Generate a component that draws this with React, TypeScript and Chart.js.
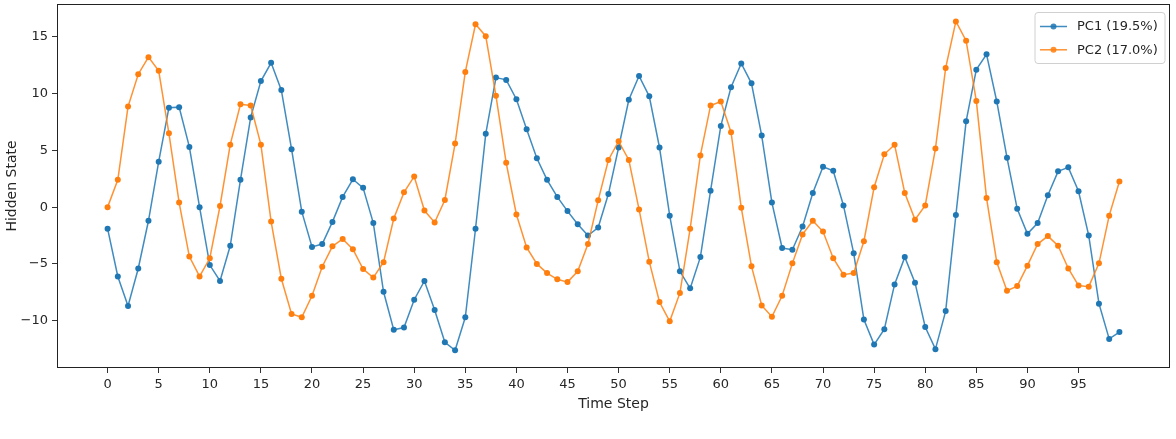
import React, { useEffect, useRef } from "react";
import { Chart, registerables } from "chart.js";

Chart.register(...registerables);

const timeSteps: number[] = Array.from({ length: 100 }, (_, i) => i);

const pc1: number[] = [
  -1.9, -6.1, -8.7, -5.4, -1.2, 4.0, 8.75, 8.8, 5.3, 0.0,
  -5.1, -6.5, -3.4, 2.4, 7.9, 11.1, 12.7, 10.3, 5.1, -0.4,
  -3.5, -3.25, -1.3, 0.9, 2.45, 1.7, -1.4, -7.45, -10.8, -10.6,
  -8.15, -6.5, -9.05, -11.9, -12.6, -9.7, -1.9, 6.45, 11.4, 11.2,
  9.5, 6.85, 4.3, 2.4, 0.9, -0.35, -1.5, -2.5, -1.8, 1.15,
  5.25, 9.45, 11.55, 9.75, 5.25, -0.75, -5.65, -7.15, -4.4, 1.45,
  7.15, 10.55, 12.65, 10.9, 6.3, 0.4, -3.6, -3.75, -1.7, 1.25,
  3.55, 3.2, 0.15, -4.05, -9.9, -12.1, -10.75, -6.8, -4.4, -6.65,
  -10.55, -12.5, -9.15, -0.7, 7.55, 12.1, 13.45, 9.3, 4.35, -0.15,
  -2.35, -1.4, 1.05, 3.15, 3.5, 1.4, -2.5, -8.5, -11.6, -11.0,
];

const pc2: number[] = [
  0.0, 2.4, 8.85, 11.7, 13.2, 12.0, 6.5, 0.4, -4.35, -6.1,
  -4.5, 0.1, 5.5, 9.05, 8.95, 5.5, -1.27, -6.3, -9.4, -9.7,
  -7.8, -5.25, -3.45, -2.8, -3.7, -5.45, -6.2, -4.85, -1.0, 1.3,
  2.7, -0.3, -1.35, 0.63, 5.6, 11.9, 16.1, 15.05, 9.8, 3.9,
  -0.65, -3.55, -5.0, -5.8, -6.35, -6.6, -5.65, -3.25, 0.6, 4.15,
  5.8, 4.15, -0.2, -4.8, -8.35, -10.05, -7.55, -1.9, 4.55, 8.95,
  9.3, 6.6, -0.05, -5.2, -8.65, -9.65, -7.8, -4.95, -2.4, -1.2,
  -2.15, -4.5, -5.95, -5.8, -3.0, 1.75, 4.65, 5.5, 1.25, -1.1,
  0.15, 5.15, 12.25, 16.35, 14.65, 9.35, 0.8, -4.85, -7.35, -6.95,
  -5.15, -3.25, -2.55, -3.4, -5.4, -6.9, -7.0, -4.95, -0.75, 2.25,
];

const seriesLabels: string[] = ["PC1 (19.5%)", "PC2 (17.0%)"];
const seriesColors: string[] = ["#1f77b4", "#ff7f0e"];
const xTickValues: number[] = [0, 5, 10, 15, 20, 25, 30, 35, 40, 45, 50, 55, 60, 65, 70, 75, 80, 85, 90, 95];
const yTickValues: number[] = [-10, -5, 0, 5, 10, 15];
const xAxisTitle = "Time Step";
const yAxisTitle = "Hidden State";

const FONT = "'DejaVu Sans', sans-serif";
const TEXT = "#262626";

const framePlugin = {
  id: "frameAndLegend",
  afterDraw(chart: any) {
    const { ctx, chartArea } = chart;
    ctx.save();
    ctx.strokeStyle = "#222";
    ctx.lineWidth = 1;
    ctx.strokeRect(
      Math.round(chartArea.left) + 0.5,
      Math.round(chartArea.top) + 0.5,
      Math.round(chartArea.right - chartArea.left) - 1,
      Math.round(chartArea.bottom - chartArea.top) - 1
    );

    // legend
    const bx = chartArea.right - 135;
    const by = chartArea.top + 8.5;
    const bw = 130;
    const bh = 51;
    const r = 3;
    ctx.beginPath();
    ctx.moveTo(bx + r, by);
    ctx.lineTo(bx + bw - r, by);
    ctx.quadraticCurveTo(bx + bw, by, bx + bw, by + r);
    ctx.lineTo(bx + bw, by + bh - r);
    ctx.quadraticCurveTo(bx + bw, by + bh, bx + bw - r, by + bh);
    ctx.lineTo(bx + r, by + bh);
    ctx.quadraticCurveTo(bx, by + bh, bx, by + bh - r);
    ctx.lineTo(bx, by + r);
    ctx.quadraticCurveTo(bx, by, bx + r, by);
    ctx.closePath();
    ctx.fillStyle = "rgba(255,255,255,0.85)";
    ctx.fill();
    ctx.strokeStyle = "#d0d0d0";
    ctx.lineWidth = 1;
    ctx.stroke();

    seriesLabels.forEach((lab, i) => {
      const y = by + 14 + i * 23.3;
      ctx.strokeStyle = seriesColors[i];
      ctx.globalAlpha = 0.85;
      ctx.lineWidth = 1.5;
      ctx.beginPath();
      ctx.moveTo(bx + 5, y);
      ctx.lineTo(bx + 32, y);
      ctx.stroke();
      ctx.fillStyle = seriesColors[i];
      ctx.beginPath();
      ctx.arc(bx + 18.5, y, 3, 0, Math.PI * 2);
      ctx.fill();
      ctx.globalAlpha = 1;
      ctx.fillStyle = TEXT;
      ctx.font = `13px ${FONT}`;
      ctx.textAlign = "left";
      ctx.textBaseline = "middle";
      ctx.fillText(lab, bx + 42, y + 0.5);
    });
    ctx.restore();
  },
};

export default function App() {
  const canvasRef = useRef<HTMLCanvasElement | null>(null);

  useEffect(() => {
    if (!canvasRef.current) return;
    const mk = (vals: number[], i: number) => ({
      label: seriesLabels[i],
      data: timeSteps.map((t, k) => ({ x: t, y: vals[k] })),
      borderColor: seriesColors[i] + "d9",
      backgroundColor: seriesColors[i] + "d9",
      pointBackgroundColor: seriesColors[i],
      pointBorderColor: seriesColors[i],
      borderWidth: 1.5,
      pointRadius: 3,
      pointBorderWidth: 0,
      tension: 0,
      order: i === 0 ? 1 : 0,
    });
    const chart = new Chart(canvasRef.current, {
      type: "line",
      data: { datasets: [mk(pc1, 0), mk(pc2, 1)] },
      options: {
        animation: false,
        responsive: false,
        devicePixelRatio: 1,
        layout: { padding: { top: 3, right: 6, left: 0, bottom: 0 } },
        plugins: { legend: { display: false }, tooltip: { enabled: false } },
        scales: {
          x: {
            type: "linear",
            min: -4.95,
            max: 103.95,
            afterBuildTicks: (scale: any) => {
              scale.ticks = xTickValues.map((v) => ({ value: v }));
            },
            afterFit: (scale: any) => {
              scale.height = 71;
              scale.paddingLeft = 0;
              scale.paddingRight = 0;
            },
            ticks: {
              autoSkip: false,
              maxRotation: 0,
              padding: 4,
              color: TEXT,
              font: { family: FONT, size: 13 },
              callback: (v: any) => String(v),
            },
            grid: {
              display: true,
              drawOnChartArea: false,
              drawTicks: true,
              tickLength: 5,
              tickColor: "#333",
            },
            border: { display: false },
            title: {
              display: true,
              text: xAxisTitle,
              color: TEXT,
              font: { family: FONT, size: 14 },
              padding: { top: 0, bottom: 26 },
            },
          },
          y: {
            type: "linear",
            min: -14.16,
            max: 17.88,
            afterBuildTicks: (scale: any) => {
              scale.ticks = yTickValues.map((v) => ({ value: v }));
            },
            afterFit: (scale: any) => {
              scale.width = 57;
              scale.paddingTop = 0;
              scale.paddingBottom = 0;
            },
            ticks: {
              padding: 4,
              color: TEXT,
              font: { family: FONT, size: 13 },
              callback: (v: any) => (v < 0 ? "\u2212" + Math.abs(v) : String(v)),
            },
            grid: {
              display: true,
              drawOnChartArea: false,
              drawTicks: true,
              tickLength: 5,
              tickColor: "#333",
            },
            border: { display: false },
            title: {
              display: true,
              text: yAxisTitle,
              color: TEXT,
              font: { family: FONT, size: 14 },
              padding: { top: 4, bottom: 0 },
            },
          },
        },
      },
      plugins: [framePlugin],
    } as any);
    return () => chart.destroy();
  }, []);

  return (
    <div style={{ position: "absolute", left: 0, top: 0, width: 1176, height: 439, background: "#fff" }}>
      <canvas ref={canvasRef} width={1176} height={439} style={{ display: "block" }} />
    </div>
  );
}
